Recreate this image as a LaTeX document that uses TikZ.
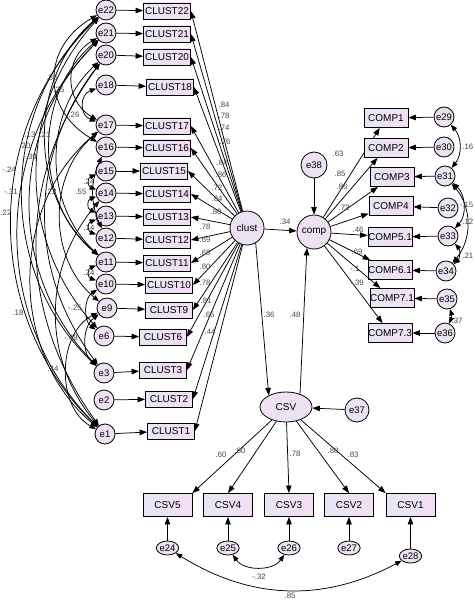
\documentclass[tikz,border=0pt]{standalone}
\usepackage{fontspec}
\setmainfont{Liberation Sans}
\usetikzlibrary{arrows.meta,shapes.geometric}
\definecolor{nodefill}{RGB}{236,226,242}
\definecolor{boxleft}{RGB}{230,230,244}
\definecolor{boxright}{RGB}{244,222,244}
\definecolor{coefgray}{RGB}{70,70,70}

\begin{document}
\begin{tikzpicture}[x=1pt,y=1pt,
  evar/.style={circle,draw,line width=0.8pt,fill=nodefill,minimum size=20pt,inner sep=0pt,font=\fontsize{9.5}{10}\selectfont},
  esmall/.style={ellipse,draw,line width=0.8pt,fill=nodefill,minimum width=21pt,minimum height=14pt,inner sep=0pt,font=\fontsize{9.5}{10}\selectfont},
  latent/.style={circle,draw,line width=0.8pt,fill=nodefill,minimum size=34pt,inner sep=0pt,font=\fontsize{10}{11}\selectfont},
  obsbox/.style={rectangle,draw,line width=0.8pt,left color=boxleft,right color=boxright,minimum width=47pt,minimum height=16pt,inner sep=0pt,font=\fontsize{10}{11}\selectfont},
  compbox/.style={obsbox,minimum width=44pt,minimum height=19pt},
  csvbox/.style={obsbox,minimum width=49pt,minimum height=23pt},
  coef/.style={font=\fontsize{7.8}{8}\selectfont,text=coefgray,inner sep=0pt},
  arr/.style={line width=0.75pt,-{Triangle[length=7.5pt,width=5.5pt]}},
  cov/.style={line width=0.75pt,{Triangle[length=6.5pt,width=5pt]}-{Triangle[length=6.5pt,width=5pt]}}]
\useasboundingbox (0,0) rectangle (474,-601);

% latent variables
\node[latent] (clust) at (247,-228) {clust};
\node[latent] (comp) at (314,-232) {comp};
\node[latent,ellipse,minimum width=52pt,minimum height=30pt] (csv) at (286,-407) {CSV};
\node[evar,minimum size=26pt] (e38) at (314,-165) {e38};
\node[evar,minimum size=24pt] (e37) at (357,-410) {e37};

% CLUST items
\foreach \n/\ey/\ex/\cy/\cx in {22/10/106/11/167, 21/33/106/34/167, 20/55/106/57/167, 18/85/106/87/170,
  17/125/106/126/167, 16/147/106/148/167, 15/171/106/171/164, 14/193/106/194/167, 13/216/106/217/167,
  12/238/106/240/167, 11/262/106/263/167, 10/284/106/285/169, 9/308/107/310/169, 6/336/104/337/163,
  3/373/104/370/163, 2/400/104/399/169, 1/434/105/431/171}{
  \node[evar] (e\n) at (\ex,-\ey) {e\n};
  \node[obsbox] (c\n) at (\cx,-\cy) {CLUST\n};
  \draw[arr] (e\n) -- (c\n);
}
\foreach \n/\v/\lx/\ly in {22/.84/224/105, 21/.78/224/116, 20/.74/224/128, 18/.76/225/142, 17/.84/222/163,
  16/.86/221/175, 15/.72/217/188, 14/.84/217/199, 13/.80/216/212, 12/.78/205/227, 11/.69/205/240,
  10/.68/205/253, 9/.60/205/267, 6/.78/205/283, 3/.81/206/301, 2/.65/209/315, 1/.44/210/332}{
  \draw[arr] (clust) -- (c\n.east);
  \node[coef] (l\n) at (\lx,-\ly) {\v};
}

% COMP items
\foreach \n/\ey/\ex/\cy/\cx/\t in {29/117/444/118/386/COMP1, 30/147/444/148/386/COMP2, 31/176/445/177/392/COMP3,
  32/208/448/206/391/COMP4, 33/236/448/237/390/COMP5.1, 34/271/446/270/390/COMP6.1,
  35/299/447/298/392/COMP7.1, 36/333/445/333/390/COMP7.3}{
  \node[evar] (e\n) at (\ex,-\ey) {e\n};
  \node[compbox] (m\n) at (\cx,-\cy) {\t};
  \draw[arr] (e\n) -- (m\n);
  \draw[arr] (comp) -- (m\n);
}
\foreach \v/\lx/\ly [count=\i] in {.63/338/154, .85/340/174, .86/342/187, .72/344/208, .46/358/230,
  .69/357/252, -.1/355/269, -.39/357/283}{
  \node[coef] (p\i) at (\lx,-\ly) {\v};
}

% CSV items
\foreach \n/\x/\e/\ey in {5/167.5/24/548, 4/228/25/548, 3/289/26/548, 2/349/27/548, 1/410.5/28/556}{
  \node[csvbox] (s\n) at (\x,-505) {CSV\n};
  \node[esmall] (e\e) at (\x,-\ey) {e\e};
  \draw[arr] (e\e) -- (s\n);
}
\draw[arr] (csv) -- (s5.north east);
\draw[arr] (csv) -- (s4.north);
\draw[arr] (csv) -- (s3.north);
\draw[arr] (csv) -- (s2.north);
\draw[arr] (csv) -- (s1.north west);
\node[coef] (q5) at (221,-455) {.60};
\node[coef] (q4) at (240,-451) {.60};
\node[coef] (q3) at (295,-454) {.78};
\node[coef] (q2) at (333,-451) {.80};
\node[coef] (q1) at (353,-455) {.83};

% structural paths
\draw[arr] (clust) -- (comp);
\draw[arr] (e38) -- (comp);
\draw[arr] (e37) -- (csv);
\draw[arr] (clust.300) -- (csv.146);
\draw[arr] (csv.43) -- (comp.246);
\node[coef] (r1) at (285,-222) {.34};
\node[coef] (r2) at (269,-315) {.36};
\node[coef] (r3) at (295,-315) {.48};

% covariances, left
\foreach \a/\b/\ang in {22/1/46, 21/1/45, 22/3/47, 21/3/45, 20/1/36, 22/6/42, 20/3/37, 21/11/50,
  20/11/47, 22/11/49, 17/9/50, 17/1/50, 14/1/40, 16/12/24, 9/1/62, 9/3/50, 10/6/55}{
  \draw[cov] (e\a) to[bend right=\ang] (e\b);
}
\draw[cov] (e22) to[bend right=60,looseness=1.3] (e16);
\draw[cov] (e21) to[bend right=60,looseness=1.2] (e17);
\draw[cov] (e18) to[bend right=70,looseness=1.4] (e17);
\draw[cov] (e15) to[bend right=70,looseness=1.6] (e14);
\draw[cov] (e14) to[bend right=70,looseness=1.6] (e13);
\draw[cov] (e13) to[bend right=70,looseness=1.6] (e12);
\draw[cov] (e11) to[bend right=70,looseness=1.6] (e10);
\node[coef] (k1) at (52,-78) {.36};
\node[coef] (k2) at (59,-90) {.35};
\node[coef] (k3) at (74,-115) {.26};
\node[coef] (k4) at (30,-135) {.13};
\node[coef] (k5) at (45,-135) {.21};
\node[coef] (k6) at (25,-146) {.20};
\node[coef] (k7) at (30,-157) {-.39};
\node[coef] (k8) at (9,-170) {-.24};
\node[coef] (k9) at (11,-192) {-.31};
\node[coef] (k10) at (6,-213) {.22};
\node[coef] (k11) at (51,-192) {.22};
\node[coef] (k12) at (81,-192) {.55};
\node[coef] (k13) at (89,-182) {.24};
\node[coef] (k14) at (89,-228) {.14};
\node[coef] (k15) at (89,-273) {.24};
\node[coef] (k16) at (75,-308) {-.25};
\node[coef] (k17) at (71,-338) {-.49};
\node[coef] (k18) at (18,-313) {.18};
\node[coef] (k19) at (53,-369) {.34};

% covariances, right and bottom
\draw[cov] (e29) to[bend left=40] (e31);
\draw[cov] (e31) to[bend left=45] (e33);
\draw[cov] (e31) to[bend left=40] (e34);
\draw[cov] (e33) to[bend left=45] (e34);
\draw[cov] (e35) to[bend left=20] (e36);
\node[coef,anchor=east] (t1) at (473.5,-147) {.16};
\node[coef,anchor=east] (t2) at (473.5,-205) {-.15};
\node[coef,anchor=east] (t3) at (473.5,-222) {-.12};
\node[coef,anchor=east] (t4) at (473.5,-256) {.21};
\node[coef] (t5) at (457,-321) {.37};
\draw[cov] (e24) to[bend right=30] (e28);
\draw[cov] (e25) to[bend right=55] (e26);
\node[coef] (u1) at (259,-577) {-.32};
\node[coef] (u2) at (290,-596) {.85};
\end{tikzpicture}
\end{document}
